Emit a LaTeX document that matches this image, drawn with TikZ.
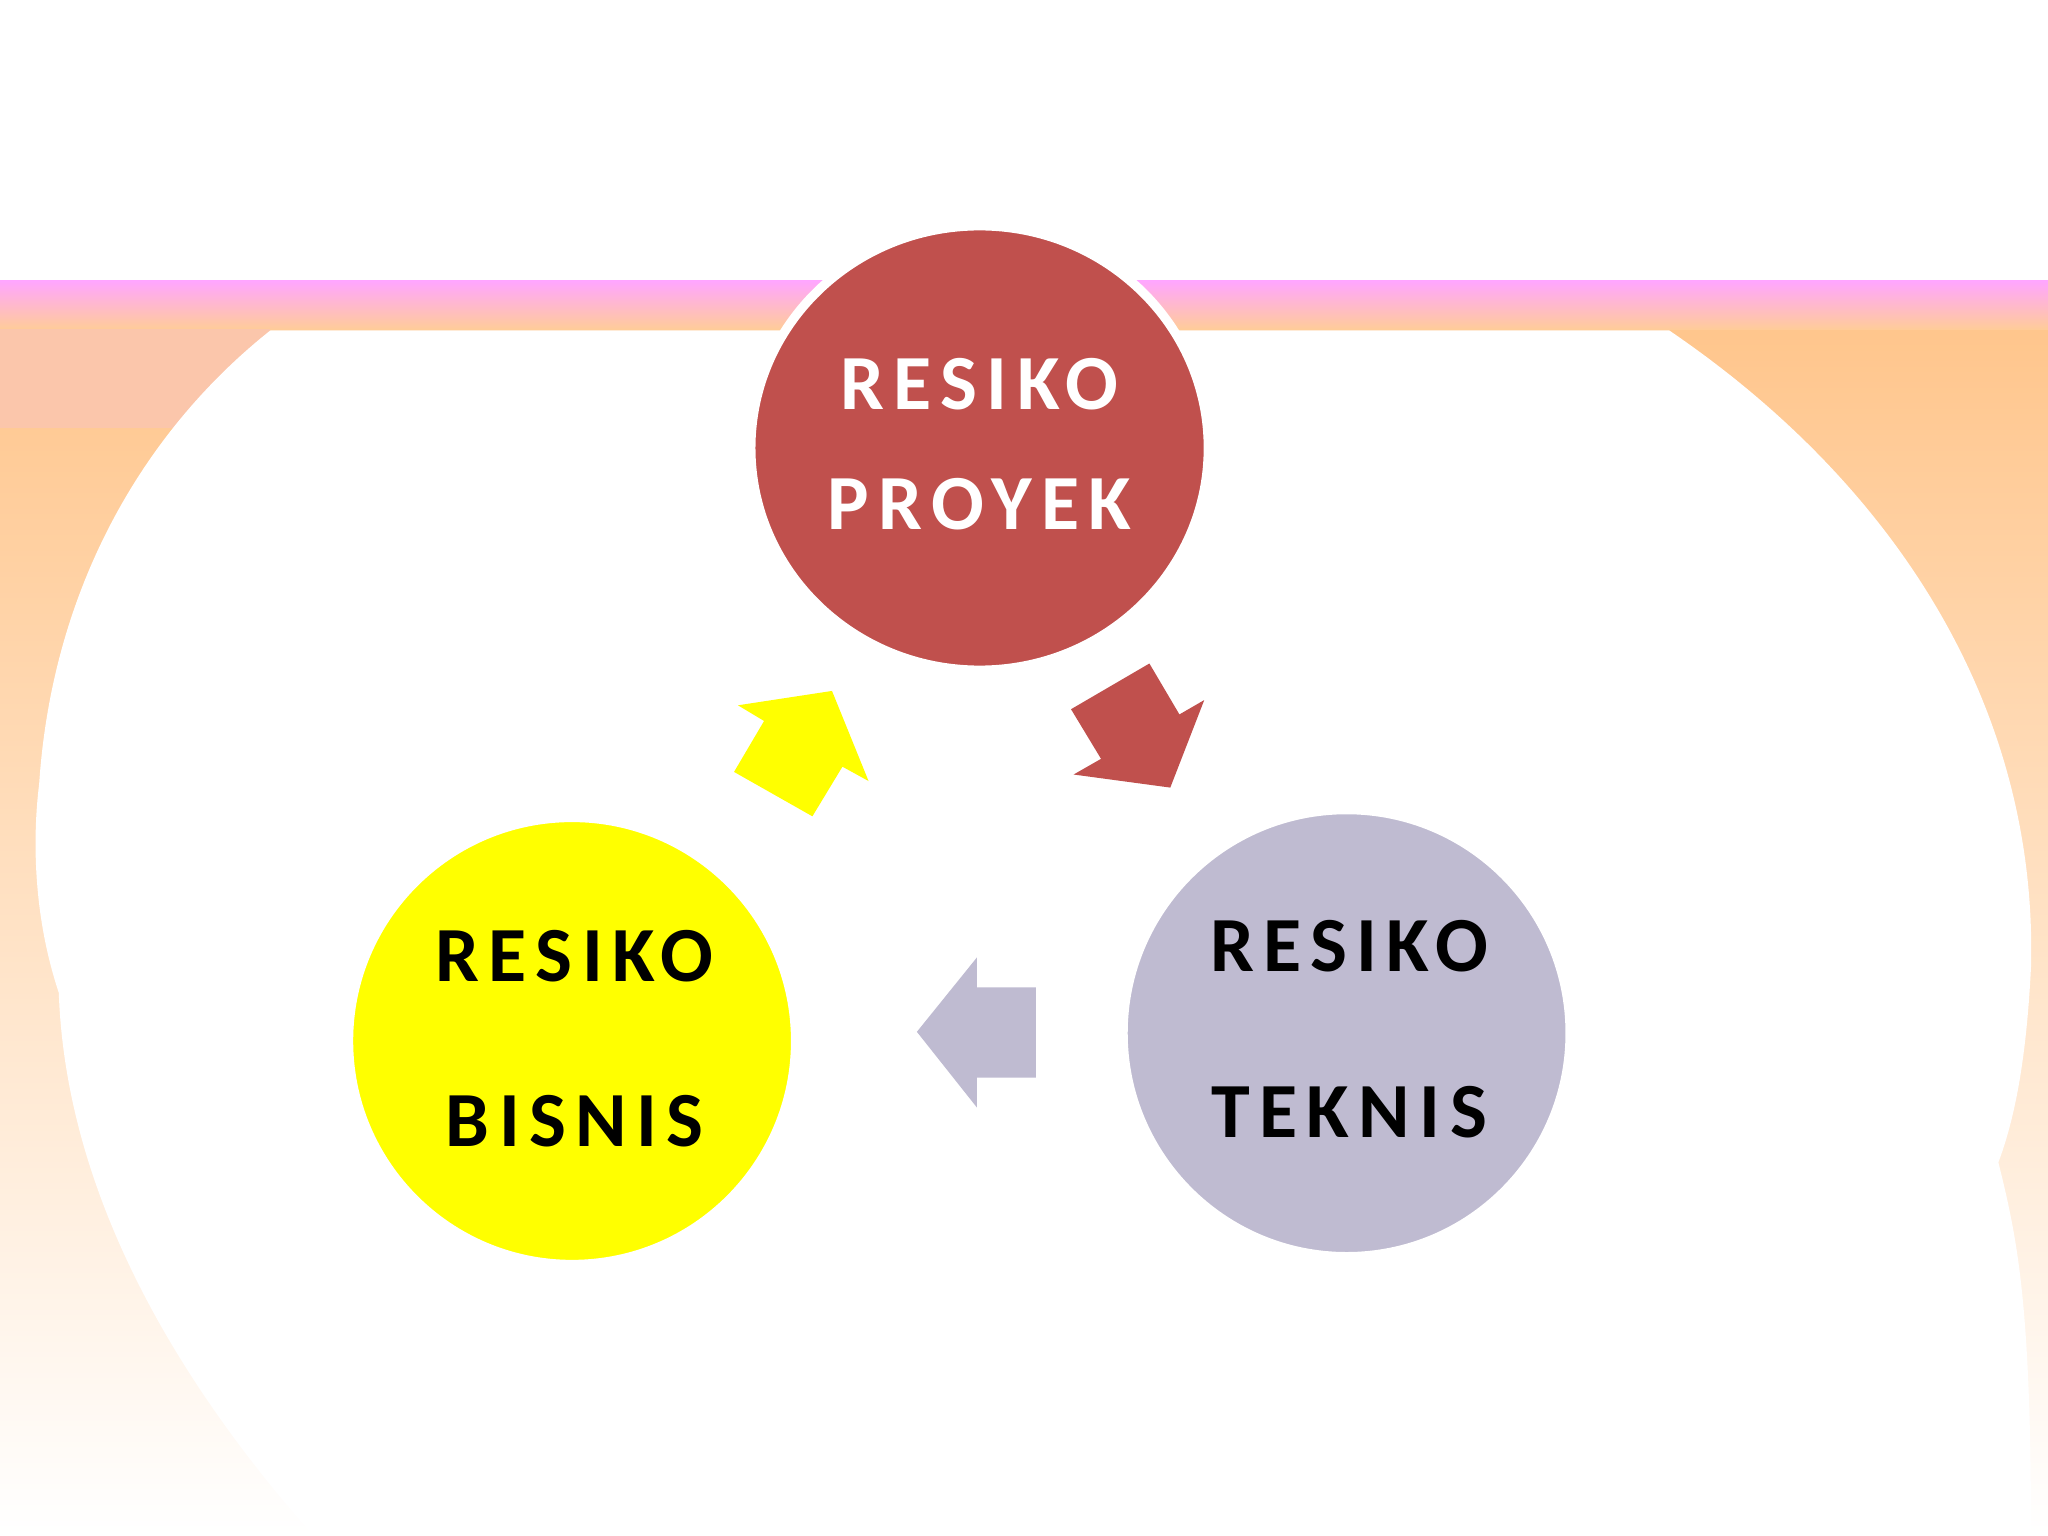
\documentclass[tikz,border=0pt]{standalone}
\usepackage{fontspec}
\usetikzlibrary{shapes.geometric}
\setmainfont{Carlito}
\definecolor{cred}{RGB}{192,80,77}
\definecolor{cyel}{RGB}{255,255,0}
\definecolor{cgry}{RGB}{191,187,209}
\begin{document}
\begin{tikzpicture}[x=0.01cm,y=-0.01cm,
 circ/.style={circle,minimum size=3.42cm,draw=white,line width=2pt},
 lbl/.style={align=center,font=\fontsize{17}{36}\selectfont\bfseries\addfontfeature{LetterSpace=12}}]
\useasboundingbox (0,0) rectangle (1568,1176);
\fill[white] (0,0) rectangle (1568,1176);
\shade[top color=orange!45!white,bottom color=white] (0,250) rectangle (1568,1176);
\shade[top color=magenta!35!white,bottom color=orange!40!white] (0,215) rectangle (1568,252);
\fill[magenta!25!orange!35!white] (0,252) rectangle (207,328);
\fill[white] (207,253) -- (1278,253) .. controls (1450,370) and (1560,540) .. (1555,740)
  .. controls (1552,800) and (1545,850) .. (1530,890) .. controls (1545,950) and (1555,1000) .. (1555,1176)
  -- (240,1176) .. controls (120,1040) and (50,900) .. (45,760) .. controls (25,700) and (25,640) .. (30,600)
  .. controls (40,450) and (110,330) .. (207,253) -- cycle;
\node[ellipse,draw=white,line width=2pt,fill=cred,minimum width=3.5cm,minimum height=3.4cm] (p) at (750,343) {};
\node[lbl,text=white,font=\fontsize{17}{26}\selectfont\bfseries\addfontfeature{LetterSpace=12}] (pt) at (750,340) {RESIKO\\PROYEK};
\node[circ,fill=cyel] (b) at (438,797) {};
\node[lbl] (bt) at (440,795) {RESIKO\\BISNIS};
\node[circ,fill=cgry] (t) at (1031,791) {};
\node[lbl] (tt) at (1033,788) {RESIKO\\TEKNIS};
\fill[cred] (820,543)--(880,508)--(903,547)--(922,536)--(896,603)--(822,593)--(843,581)--cycle;
\fill[cyel] (565,540)--(637,529)--(665,598)--(645,587)--(622,625)--(562,591)--(585,552)--cycle;
\fill[cgry] (793,756)--(748,756)--(748,733)--(702,790)--(748,848)--(748,825)--(793,825)--cycle;
\end{tikzpicture}
\end{document}
